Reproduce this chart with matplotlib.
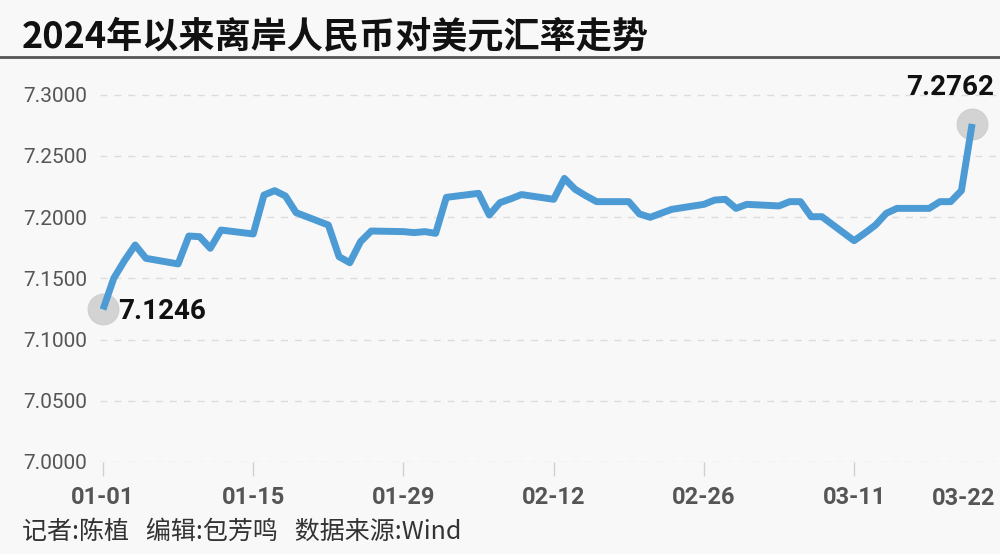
import matplotlib
matplotlib.use("Agg")
import matplotlib.pyplot as plt
import matplotlib.dates as mdates
from matplotlib.lines import Line2D
import matplotlib.transforms as mtransforms
import pandas as pd

plt.rcParams['font.family'] = ['Noto Sans CJK SC', 'DejaVu Sans']

# 离岸人民币对美元, 工作日数据
dates = [
    "2024-01-01", "2024-01-02", "2024-01-03", "2024-01-04", "2024-01-05",
    "2024-01-08", "2024-01-09", "2024-01-10", "2024-01-11", "2024-01-12",
    "2024-01-15", "2024-01-16", "2024-01-17", "2024-01-18", "2024-01-19",
    "2024-01-22", "2024-01-23", "2024-01-24", "2024-01-25", "2024-01-26",
    "2024-01-29", "2024-01-30", "2024-01-31", "2024-02-01", "2024-02-02",
    "2024-02-05", "2024-02-06", "2024-02-07", "2024-02-08", "2024-02-09",
    "2024-02-12", "2024-02-13", "2024-02-14", "2024-02-15", "2024-02-16",
    "2024-02-19", "2024-02-20", "2024-02-21", "2024-02-22", "2024-02-23",
    "2024-02-26", "2024-02-27", "2024-02-28", "2024-02-29", "2024-03-01",
    "2024-03-04", "2024-03-05", "2024-03-06", "2024-03-07", "2024-03-08",
    "2024-03-11", "2024-03-12", "2024-03-13", "2024-03-14", "2024-03-15",
    "2024-03-18", "2024-03-19", "2024-03-20", "2024-03-21", "2024-03-22",
]
rates = [
    7.1246, 7.1500, 7.1645, 7.1773, 7.1664,
    7.1618, 7.1846, 7.1841, 7.1746, 7.1895,
    7.1863, 7.2181, 7.2217, 7.2173, 7.2037,
    7.1936, 7.1677, 7.1628, 7.1800, 7.1887,
    7.1882, 7.1874, 7.1882, 7.1868, 7.2162,
    7.2195, 7.2018, 7.2119, 7.2150, 7.2185,
    7.2146, 7.2317, 7.2228, 7.2175, 7.2127,
    7.2127, 7.2026, 7.1999, 7.2032, 7.2064,
    7.2105, 7.2140, 7.2146, 7.2072, 7.2105,
    7.2092, 7.2127, 7.2127, 7.2004, 7.2004,
    7.1808, 7.1870, 7.1936, 7.2032, 7.2072,
    7.2072, 7.2127, 7.2127, 7.2217, 7.2762,
]
tick_dates = ["2024-01-01", "2024-01-15", "2024-01-29", "2024-02-12", "2024-02-26", "2024-03-11"]
tick_labels = ["01-01", "01-15", "01-29", "02-12", "02-26", "03-11"]
last_label = "03-22"
y_ticks = [7.00, 7.05, 7.10, 7.15, 7.20, 7.25, 7.30]

title = "2024年以来离岸人民币对美元汇率走势"
footer = "记者:陈植   编辑:包芳鸣   数据来源:Wind"

bg = '#f8f8f8'
blue = '#4d9bd5'
grey_txt = '#555555'

x = mdates.date2num(pd.to_datetime(dates))
xt = mdates.date2num(pd.to_datetime(tick_dates))

fig = plt.figure(figsize=(10, 5.54), dpi=100, facecolor=bg)
ax = fig.add_axes([0.1, 0.1661, 0.9, 0.6895])
ax.set_facecolor(bg)

ax.plot(x, rates, color=blue, lw=5, zorder=3, solid_capstyle='butt')
# 起止点
ax.plot([x[0], x[-1]], [rates[0], rates[-1]], 'o', ms=22, color='#cfcfcf',
        alpha=0.9, zorder=2, clip_on=False)

ax.annotate(f"{rates[0]:.4f}", xy=(x[0], rates[0]), xytext=(15, -2),
            textcoords='offset pixels', ha='left', va='center',
            fontsize=20, fontweight='bold', family='Roboto', color='#111111')
ax.annotate(f"{rates[-1]:.4f}", xy=(x[-1], rates[-1]), xytext=(-22, 36),
            textcoords='offset pixels', ha='center', va='center',
            fontsize=20, fontweight='bold', family='Roboto', color='#111111',
            annotation_clip=False)

ax.set_xlim(x[0] - 0.28, x[0] - 0.28 + 900 / 10.73)
ax.set_ylim(7.0, 7.0 + 382 / 1224)

ax.set_yticks(y_ticks)
ax.set_yticklabels([f"{v:.4f}" for v in y_ticks], family='Roboto', fontsize=15, color=grey_txt)
ax.set_xticks(xt)
ax.set_xticklabels(tick_labels, family='Roboto', fontsize=17, fontweight='bold', color=grey_txt)
ax.tick_params(axis='y', length=0, pad=9)
ax.tick_params(axis='x', length=10, width=1, color='#d0d0d0', pad=7)

# 03-22 标签没有刻度线
trans = mtransforms.blended_transform_factory(ax.transData, ax.transAxes)
ax.annotate(last_label, xy=(x[-1], 0), xycoords=trans, xytext=(-9, -37),
            textcoords='offset pixels', ha='center', va='center',
            family='Roboto', fontsize=17, fontweight='bold', color=grey_txt,
            annotation_clip=False)

ax.grid(axis='y', color='#dcdcdc', lw=1, linestyle=(0, (5, 5)))
ax.grid(axis='x', visible=False)
for s in ax.spines.values():
    s.set_visible(False)

fig.text(0.022, 0.933, title, fontsize=26, fontweight='bold', va='center', ha='left', color='#111111')
fig.add_artist(Line2D([0, 1], [0.897, 0.897], color='#555555', lw=2, transform=fig.transFigure))
fig.text(0.022, 0.040, footer, fontsize=18, va='center', ha='left', color='#333333')

fig.savefig('out.png', dpi=100, facecolor=bg)
